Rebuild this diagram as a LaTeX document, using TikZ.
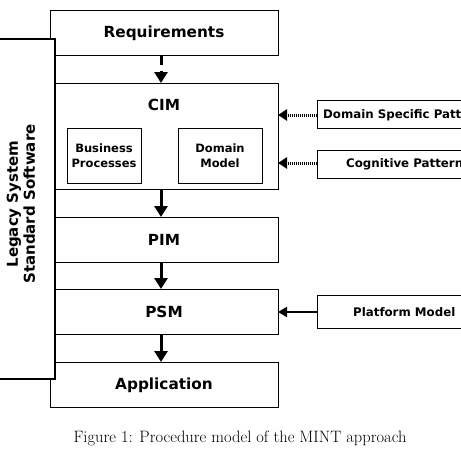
\documentclass[tikz,border=0pt]{standalone}
\usepackage{fontspec}
\newfontfamily\vfont{DejaVu Sans}[BoldFont={DejaVu Sans Bold}]
\usetikzlibrary{arrows.meta}
\begin{document}
\begin{tikzpicture}[x=1pt,y=-1pt,
  box/.style={draw=black,line width=0.9pt,fill=white},
  bigtxt/.style={font=\vfont\bfseries\fontsize{15.3}{17}\selectfont},
  midtxt/.style={font=\vfont\bfseries\fontsize{11.8}{13}\selectfont,inner sep=0pt},
  smalltxt/.style={font=\vfont\bfseries\fontsize{11.5}{15}\selectfont,align=center},
  arr/.style={line width=3pt,-{Triangle[length=11pt,width=13pt]}},
  dotarr/.style={line width=3pt,dash pattern=on 1pt off 1pt,-{Triangle[length=9pt,width=11pt]}}
]
\useasboundingbox (0,0) rectangle (461,461);
\clip (0,0) rectangle (461,461);
% main boxes
\draw[box] (50,10) rectangle (278,55);
\node[bigtxt] (req) at (164,33) {Requirements};
\coordinate (reqS) at (161,55);
\draw[box] (50,83) rectangle (278,189);
\node[bigtxt] (cim) at (164,105) {CIM};
\coordinate (cimN) at (161,83);
\coordinate (cimS) at (161,189);
\coordinate (cimE1) at (278,115);
\coordinate (cimE2) at (278,163);
\draw[box] (67,128) rectangle (141,183);
\node[smalltxt] (bp) at (104,156) {Business\\Processes};
\draw[box] (178,128) rectangle (262,183);
\node[smalltxt] (dm) at (220,156) {Domain\\Model};
\draw[box] (50,217) rectangle (278,262);
\node[bigtxt] (pim) at (164,240) {PIM};
\coordinate (pimN) at (161,217);
\coordinate (pimS) at (161,262);
\draw[box] (50,289) rectangle (278,334);
\node[bigtxt] (psm) at (164,312) {PSM};
\coordinate (psmN) at (161,289);
\coordinate (psmS) at (161,334);
\coordinate (psmE) at (278,312);
\draw[box] (50,362) rectangle (278,407);
\node[bigtxt] (app) at (164,385) {Application};
\coordinate (appN) at (161,362);
% legacy box
\draw[draw=black,line width=2.5pt,fill=white] (-10,39) rectangle (55,379);
\node[rotate=90,align=center,font=\vfont\bfseries\fontsize{15}{17}\selectfont] (leg) at (21,204) {Legacy System\\Standard Software};
% right boxes
\draw[box] (317,100) rectangle (480,128);
\node[midtxt,anchor=west] (dsp) at (323,115) {Domain Specific Patterns};
\coordinate (dspW) at (317,115);
\draw[box] (317,150) rectangle (480,178);
\node[midtxt,anchor=west] (cog) at (346,164) {Cognitive Patterns};
\coordinate (cogW) at (317,163);
\draw[box] (317,295) rectangle (480,328);
\node[midtxt,anchor=west] (plat) at (353,312) {Platform Model};
\coordinate (platW) at (317,312);
% arrows
\draw[line width=3pt,dash pattern=on 10pt off 6pt,-{Triangle[length=11pt,width=13pt]}] (reqS) -- (cimN);
\draw[arr] (cimS) -- (pimN);
\draw[arr] (pimS) -- (psmN);
\draw[arr] (psmS) -- (appN);
\draw[dotarr] (dspW) -- (cimE1);
\draw[dotarr] (cogW) -- (cimE2);
\draw[line width=2pt,-{Triangle[length=9pt,width=10pt]}] (platW) -- (psmE);
% caption
\node[font=\fontsize{16.5}{19}\selectfont] (cap) at (240,438) {Figure 1: Procedure model of the MINT approach};
\end{tikzpicture}
\end{document}
